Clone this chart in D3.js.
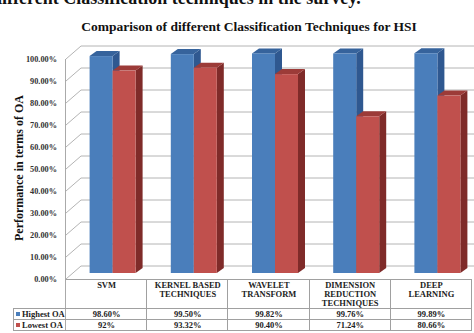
<!DOCTYPE html>
<html><head><meta charset="utf-8">
<script src="https://cdn.jsdelivr.net/npm/d3@7"></script>
<style>body{margin:0;background:#fff}svg{display:block}</style>
</head><body>
<svg id="c" width="474" height="333"></svg>
<script>
const categories = ["SVM", "KERNEL BASED\nTECHNIQUES", "WAVELET\nTRANSFORM", "DIMENSION\nREDUCTION\nTECHNIQUES", "DEEP\nLEARNING"];
const seriesNames = ["Highest OA", "Lowest OA"];
const highestOA = [98.60, 99.50, 99.82, 99.76, 99.89];
const lowestOA = [92, 93.32, 90.40, 71.24, 80.66];
const highestLabels = ["98.60%", "99.50%", "99.82%", "99.76%", "99.89%"];
const lowestLabels = ["92%", "93.32%", "90.40%", "71.24%", "80.66%"];
const yTicks = [0, 10, 20, 30, 40, 50, 60, 70, 80, 90, 100];

const svg = d3.select("#c");
const serif = "'Liberation Serif','Times New Roman',serif";
const DX = 15, DY = -13;      // full depth offset
const MX = 6, MY = -6;        // bar mid-depth offset
const BDX = 7, BDY = -5;      // bar depth
const BW = 23;

const x = d3.scaleBand().domain(categories).range([66, 472]);
const y = d3.scaleLinear().domain([0, 100]).range([279, 59]);

// clipped heading at very top (cut off in the source image)
svg.append("text").attr("x", -8).attr("y", 4).attr("font-family", serif)
  .attr("font-weight", "bold").attr("font-size", 18).attr("fill", "#111")
  .text("different Classification techniques in the survey.");

// title
svg.append("text").attr("x", 249).attr("y", 31).attr("text-anchor", "middle")
  .attr("font-family", serif).attr("font-weight", "bold").attr("font-size", 13.5)
  .attr("fill", "#111").text("Comparison of different Classification Techniques for HSI");

// walls / gridlines
const grid = svg.append("g").attr("stroke", "#b4b4b4").attr("stroke-width", 1).attr("fill", "none");
yTicks.forEach(t => {
  const yy = y(t);
  grid.append("path").attr("d", `M66,${yy}L${66 + DX},${yy + DY}L${x.range()[1] + DX},${yy + DY}`);
});
grid.append("line").attr("x1", 65.5).attr("x2", 65.5).attr("y1", y(100)).attr("y2", 330).attr("stroke", "#aaa");

// y axis labels
const yAxis = d3.axisLeft(y).tickValues(yTicks).tickSize(0).tickPadding(9)
  .tickFormat(d => d3.format(".2f")(d) + "%");
const ga = svg.append("g").attr("transform", "translate(66,0)").call(yAxis);
ga.select(".domain").remove();
ga.selectAll("text").attr("font-family", serif).attr("font-weight", "bold")
  .attr("font-size", 8.3).attr("fill", "#333");

// y axis title
svg.append("text").attr("transform", "translate(23,168) rotate(-90)").attr("text-anchor", "middle")
  .attr("font-family", serif).attr("font-weight", "bold").attr("font-size", 12)
  .attr("fill", "#111").text("Performance in terms of OA");

// bars
const colors = [
  {front: "#4a7ebb", side: "#2f5890", top: "#36639c"},
  {front: "#c0504d", side: "#7f2b29", top: "#9c3b38"}
];
function bar(g, x0, v, c) {
  const yb = y(0) + MY, yt = y(v) + MY;
  const x1 = x0 + BW;
  g.append("path").attr("d", `M${x1},${yt}L${x1 + BDX},${yt + BDY}L${x1 + BDX},${yb + BDY}L${x1},${yb}Z`).attr("fill", c.side);
  g.append("path").attr("d", `M${x0},${yt}L${x0 + BDX},${yt + BDY}L${x1 + BDX},${yt + BDY}L${x1},${yt}Z`).attr("fill", c.top);
  g.append("rect").attr("x", x0).attr("y", yt).attr("width", BW).attr("height", yb - yt).attr("fill", c.front);
}
const gb = svg.append("g");
categories.forEach((cat, i) => {
  const cx = x(cat) + x.bandwidth() / 2 + MX;
  bar(gb, cx - BW, highestOA[i], colors[0]);
  bar(gb, cx, lowestOA[i], colors[1]);
});

// data table
const tl = svg.append("g").attr("stroke", "#a0a0a0").attr("stroke-width", 1);
const R = [279.5, 308.5, 319.5, 330.5];
tl.append("line").attr("x1", 66).attr("x2", 472).attr("y1", R[0]).attr("y2", R[0]);
[R[1], R[2], R[3]].forEach(r => tl.append("line").attr("x1", 13).attr("x2", 472).attr("y1", r).attr("y2", r));
tl.append("line").attr("x1", 13.5).attr("x2", 13.5).attr("y1", R[1]).attr("y2", R[3]);
categories.forEach(cat => {
  const xe = Math.round(x(cat) + x.bandwidth()) - 0.5;
  tl.append("line").attr("x1", xe).attr("x2", xe).attr("y1", R[0]).attr("y2", R[3]);
});

const tt = svg.append("g").attr("font-family", serif).attr("font-weight", "bold").attr("fill", "#222");
categories.forEach((cat, i) => {
  const cx = x(cat) + x.bandwidth() / 2;
  cat.split("\n").forEach((ln, k) => {
    tt.append("text").attr("x", cx).attr("y", 288 + k * 9).attr("text-anchor", "middle")
      .attr("font-size", 8.5).text(ln);
  });
  tt.append("text").attr("x", cx).attr("y", 316.5).attr("text-anchor", "middle").attr("font-size", 8.5).text(highestLabels[i]);
  tt.append("text").attr("x", cx).attr("y", 327.5).attr("text-anchor", "middle").attr("font-size", 8.5).text(lowestLabels[i]);
});
seriesNames.forEach((s, k) => {
  const yy = R[k + 1];
  svg.append("rect").attr("x", 16).attr("y", yy + 3.5).attr("width", 4).attr("height", 4).attr("fill", colors[k].front);
  tt.append("text").attr("x", 22).attr("y", yy + 8).attr("font-size", 8.5).text(s);
});
</script>
</body></html>
